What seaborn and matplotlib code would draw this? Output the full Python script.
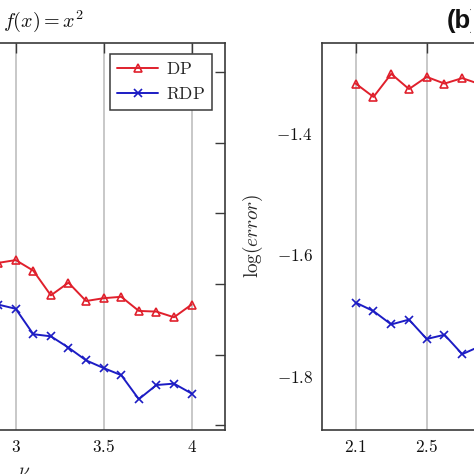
import numpy as np
import pandas as pd
import matplotlib
matplotlib.use("Agg")
import matplotlib.pyplot as plt
import seaborn as sns
from matplotlib.ticker import FuncFormatter, FixedLocator
from matplotlib.patches import Rectangle

# ---------------- data ----------------
# left panel (f(x) = x^2), visible part
nu_left = [2.9, 3.0, 3.1, 3.2, 3.3, 3.4, 3.5, 3.6, 3.7, 3.8, 3.9, 4.0]
dp_left = [-1.270, -1.266, -1.281, -1.316, -1.298, -1.324, -1.320, -1.318,
           -1.338, -1.339, -1.347, -1.329]
rdp_left = [-1.329, -1.335, -1.371, -1.374, -1.390, -1.408, -1.419, -1.429,
            -1.463, -1.443, -1.441, -1.455]

# right panel (b), visible part
nu_right = [2.1, 2.2, 2.3, 2.4, 2.5, 2.6, 2.7, 2.8]
dp_right = [-1.318, -1.340, -1.302, -1.327, -1.307, -1.318, -1.309, -1.319]
rdp_right = [-1.679, -1.693, -1.715, -1.707, -1.739, -1.732, -1.764, -1.751]

left_xticks = [2.0, 2.5, 3.0, 3.5, 4.0]
left_yticks = [-1.5, -1.4, -1.3, -1.2, -1.1, -1.0]
right_xticks = [2.1, 2.5, 2.9, 3.3, 3.7, 4.1]
right_yticks = [-1.8, -1.6, -1.4]

series_names = ["DP", "RDP"]
title_left = r"$f(x) = x^2$"
panel_label = "(b)"
xlabel = r"$\nu$"
ylabel = r"$\log(error)$"

# ---------------- style ----------------
sns.set_style("white")
plt.rcParams["font.family"] = ["DejaVu Serif"]
plt.rcParams["mathtext.fontset"] = "cm"

RED = "#e0202c"
BLUE = "#1c1cc4"
SPINE = "#3a3a3a"
GRID = "#c4c4c4"

W = H = 474
fig = plt.figure(figsize=(W / 100, H / 100), dpi=100)

def px_rect(x0, x1, ytop, ybot):
    return [x0 / W, 1 - ybot / H, (x1 - x0) / W, (ybot - ytop) / H]

axL = fig.add_axes(px_rect(-176, 225, 43, 430))
axR = fig.add_axes(px_rect(322, 322 + 404.7, 43, 430))

fmt = FuncFormatter(lambda v, p: "$%g$" % v)

def style_axes(ax, xticks, yticks, xlim, ylim):
    ax.set_xlim(*xlim)
    ax.set_ylim(*ylim)
    ax.xaxis.set_major_locator(FixedLocator(xticks))
    ax.yaxis.set_major_locator(FixedLocator(yticks))
    ax.xaxis.set_major_formatter(fmt)
    ax.yaxis.set_major_formatter(fmt)
    ax.tick_params(axis="both", which="major", direction="in", length=7,
                   width=1.0, color=SPINE, labelsize=12.3, pad=6.5,
                   top=True, right=True, labelcolor="#111111")
    ax.grid(True, axis="x", color=GRID, linewidth=1.3)
    ax.grid(False, axis="y")
    ax.set_axisbelow(True)
    for s in ax.spines.values():
        s.set_visible(True)
        s.set_color(SPINE)
        s.set_linewidth(1.2)
    ax.set_facecolor("white")

def draw(ax, x, dp, rdp, legend):
    sns.lineplot(x=x, y=dp, ax=ax, color=RED, linewidth=1.4, marker="^",
                 markersize=6.2, markerfacecolor="none", markeredgecolor=RED,
                 markeredgewidth=1.2, label=series_names[0] if legend else None,
                 legend=False)
    sns.lineplot(x=x, y=rdp, ax=ax, color=BLUE, linewidth=1.4, marker="x",
                 markersize=6, markeredgecolor=BLUE, markeredgewidth=1.2,
                 label=series_names[1] if legend else None, legend=False)

draw(axL, nu_left, dp_left, rdp_left, True)
draw(axR, nu_right, dp_right, rdp_right, False)

style_axes(axL, left_xticks, left_yticks, (1.91, 4.19), (-1.5067, -0.9585))
style_axes(axR, right_xticks, right_yticks, (1.91, 4.19), (-1.889, -1.2511))

axL.set_xlabel(xlabel, fontsize=14)
axL.xaxis.set_label_coords(0.5, -0.083)
axL.xaxis.label.set_va("top")
axL.set_ylabel("")
axR.set_xlabel("")
axR.set_ylabel(ylabel, fontsize=13.8)
axR.yaxis.set_label_coords(-0.141, 0.5)

handles, labels = axL.get_legend_handles_labels()
leg = axL.legend(handles, [r"$\mathrm{%s}$" % l for l in labels],
                 loc="upper right", bbox_to_anchor=(0.9676, 0.9716),
                 borderaxespad=0, fontsize=12.5, frameon=True, fancybox=False,
                 framealpha=1, edgecolor=SPINE, handlelength=2.4,
                 handletextpad=0.45, borderpad=0.4, labelspacing=0.45)
leg.get_frame().set_linewidth(1.1)
for t in leg.get_texts():
    t.set_ha("right")

fig.text(3 / W, 1 - 26.5 / H, title_left, fontsize=14.5, ha="left",
         va="baseline", color="#111111")
lab = fig.text(447 / W, 1 - 28 / H, panel_label, fontsize=18.5,
               fontweight="bold", family=["Liberation Sans", "DejaVu Sans"],
               ha="left", va="baseline", color="#111111")
# the reference crop cuts the panel label just after "(b"
clip = Rectangle((0, 0), 470.5 / W, 1, transform=fig.transFigure,
                 visible=False)
fig.add_artist(clip)
lab.set_clip_path(clip)
lab.set_clip_on(True)

fig.savefig("out.png", dpi=100, facecolor="white")
